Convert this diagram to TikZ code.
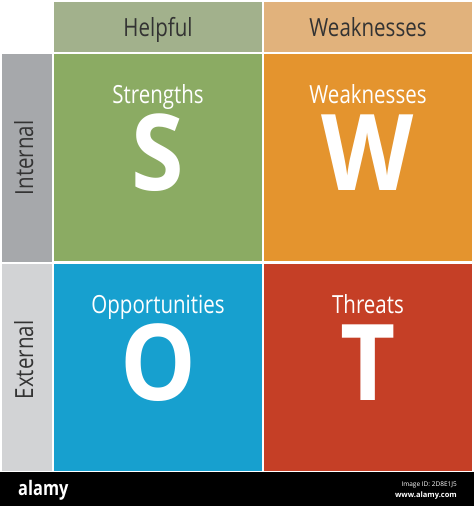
\documentclass[tikz,border=0pt]{standalone}
\usepackage{fontspec}
\setmainfont{Open Sans}
\newfontfamily\narrowfont[FakeStretch=0.82]{Open Sans}
\newfontfamily\bigfont[FakeStretch=0.9]{Open Sans}
\definecolor{headgreen}{RGB}{162,177,140}
\definecolor{headorange}{RGB}{225,178,124}
\definecolor{sidedark}{RGB}{166,168,171}
\definecolor{sidelight}{RGB}{210,211,213}
\definecolor{sgreen}{RGB}{139,171,99}
\definecolor{worange}{RGB}{228,148,46}
\definecolor{oblue}{RGB}{23,160,207}
\definecolor{tred}{RGB}{197,63,38}
\definecolor{headtext}{RGB}{51,51,51}
\tikzset{
  headlabel/.style={font=\narrowfont\fontsize{25}{25}\selectfont,text=headtext,anchor=base,inner sep=0pt},
  quadlabel/.style={font=\narrowfont\fontsize{25}{25}\selectfont,text=white,anchor=base,inner sep=0pt},
  bigletter/.style={font=\bigfont\bfseries\fontsize{106}{106}\selectfont,text=white,anchor=base,inner sep=0pt}
}
\begin{document}
\begin{tikzpicture}[x=1pt,y=-1pt]
\useasboundingbox (0,0) rectangle (474,506);
% header row and side column
\fill[headgreen] (54,2) rectangle (262,52);
\fill[headorange] (264,2) rectangle (472,52);
\fill[sidedark] (2,54) rectangle (52,262);
\fill[sidelight] (2,264) rectangle (52,471);
\node[headlabel] (helpful) at (158,36) {Helpful};
\node[headlabel] (weakhead) at (368,36) {Weaknesses};
\node[headlabel,rotate=90] (internal) at (33,158) {Internal};
\node[headlabel,rotate=90] (external) at (33,360) {External};
% the four quadrants
\foreach \x/\y/\col/\name/\letter in {54/54/sgreen/Strengths/S,264/54/worange/Weaknesses/W,54/264/oblue/Opportunities/O,264/264/tred/Threats/T}
{
\fill[\col] (\x,\y) rectangle ++(208,207);
\node[quadlabel] (name-\letter) at (\x+104,\y+49) {\name};
\node[bigletter] (letter-\letter) at (\x+104,\y+136) {\letter};
}
% footer bar
\fill[black] (0,472) rectangle (474,506);
\node[font=\narrowfont\bfseries\fontsize{20}{20}\selectfont,text=white,anchor=base west,inner sep=0pt] (brand) at (18,495) {alamy};
\node[font=\fontsize{6.5}{6.5}\selectfont,text=white,anchor=base east,inner sep=0pt] (imageid) at (457,486) {Image ID: 2D8E1J5};
\node[font=\bfseries\fontsize{7.5}{7.5}\selectfont,text=white,anchor=base east,inner sep=0pt] (website) at (457,497) {www.alamy.com};
\end{tikzpicture}
\end{document}
